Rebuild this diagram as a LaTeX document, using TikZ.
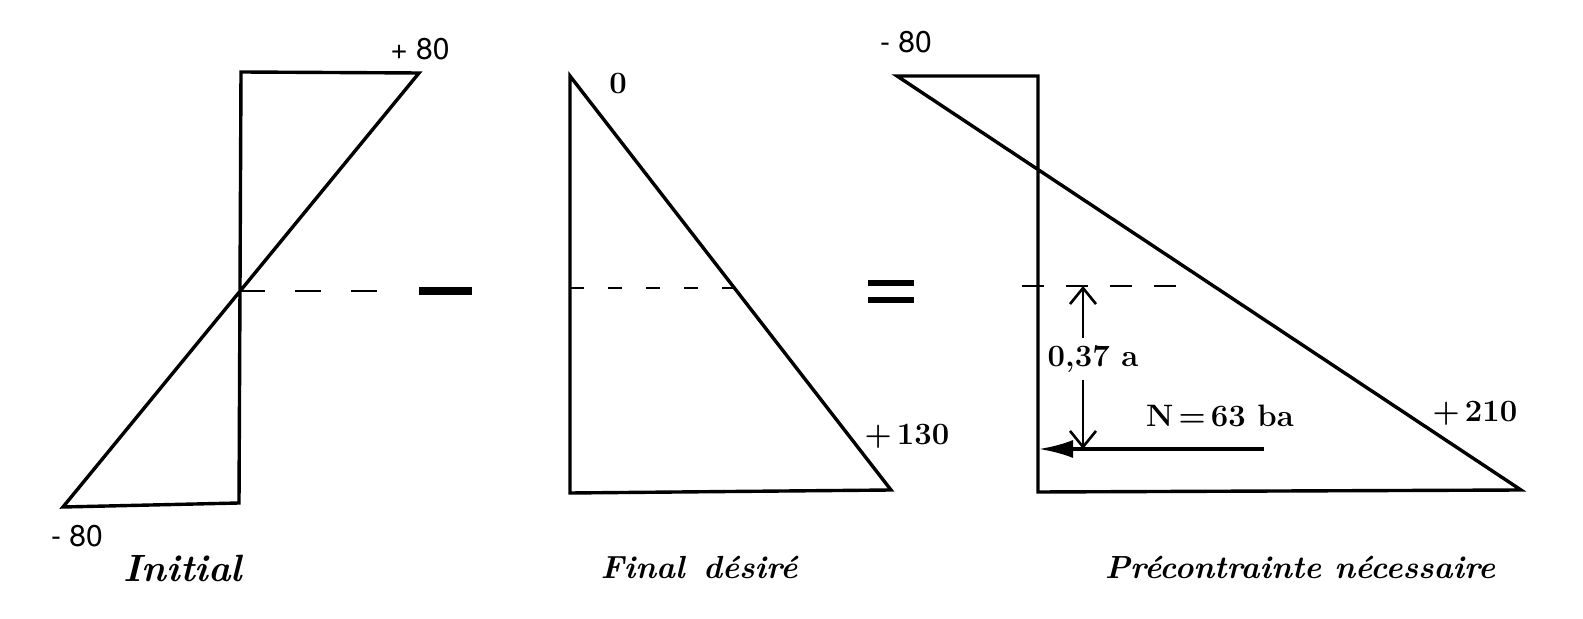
\documentclass[tikz,border=0pt]{standalone}
\usepackage{fontspec}
\newfontfamily\heros{TeX Gyre Heros}
\usetikzlibrary{arrows.meta}

\begin{document}
\begin{tikzpicture}
[
x=0.5pt, y=-0.5pt,
trait/.style={line width=1.7pt, line join=miter},
tiret/.style={line width=1.4pt, dash pattern=on 13pt off 15pt},
val/.style={font=\heros\fontsize{15}{18}\selectfont, inner sep=0pt},
valb/.style={font=\bfseries\fontsize{15.5}{19}\selectfont, inner sep=0pt},
titre/.style={font=\bfseries\itshape\fontsize{19}{23}\selectfont, inner sep=0pt},
titrec/.style={font=\bfseries\itshape\fontsize{16}{20}\selectfont, inner sep=0pt},
signe/.style={line width=3.8pt}
]
\useasboundingbox (0,0) rectangle (1583,619);

% Initial
\coordinate (ih) at (241,72);
\coordinate (id) at (419,73);
\coordinate (ib) at (239,503);
\coordinate (ig) at (63,507);
\coordinate (ic) at (239,291);
\coordinate (ie) at (380,291);
\draw[trait] (ib) -- (ih) -- (id) -- (ig) -- cycle;
\draw[tiret] (ic) -- (ie);
\node[val] (ip) at (420,49) {+ 80};
\node[val] (im) at (77,536) {- 80};
\node[titre] (it) at (183,568) {Initial};

% moins
\coordinate (m1) at (419,291);
\coordinate (m2) at (472,291);
\draw[signe] (m1) -- (m2);

% Final
\coordinate (fh) at (570,76);
\coordinate (fb) at (570,493);
\coordinate (fd) at (891,490);
\coordinate (fc) at (570,288);
\coordinate (fe) at (748,288);
\draw[trait] (fh) -- (fb) -- (fd) -- cycle;
\draw[tiret, dash pattern=on 7pt off 12pt] (fc) -- (fe);
\node[valb] (fz) at (618,84) {0};
\node[valb] (fp) at (907,436) {+\,130};
\node[titrec] (ft) at (699,567) {Final\, désiré};

% egal
\coordinate (e1) at (868,283);
\coordinate (e2) at (914,283);
\coordinate (e3) at (868,300);
\coordinate (e4) at (914,300);
\draw[signe, line width=3.4pt] (e1) -- (e2) (e3) -- (e4);

% Precontrainte
\coordinate (ph) at (1038,76);
\coordinate (pg) at (897,76);
\coordinate (pb) at (1038,492);
\coordinate (pd) at (1521,490);
\coordinate (pc) at (1022,286);
\coordinate (pe) at (1181,286);
\draw[trait] (pb) -- (ph) -- (pg) -- (pd) -- cycle;
\draw[tiret, dash pattern=on 11pt off 11pt] (pc) -- (pe);
\node[val] (pm) at (906,42) {- 80};
\node[valb] (pp) at (1475,413) {+\,210};

\coordinate (pa) at (1083,286);
\coordinate (pn) at (1083,449);
\coordinate (pf) at (1264,449);
\coordinate (pv) at (1039,449);
\draw[line width=1.3pt, {Straight Barb[length=8pt,width=13pt]}-{Straight Barb[length=8pt,width=13pt]}] (pa) -- (pn);
\node[valb, fill=white, inner sep=4pt] (pl) at (1093,359) {0,37 a};
\draw[line width=1.7pt, -{Latex[length=17pt,width=9pt]}] (pf) -- (pv);
\node[valb] (pN) at (1220,416) {N\,=\,63 ba};
\node[titrec] (pt) at (1300,567) {Précontrainte nécessaire};
\end{tikzpicture}
\end{document}
